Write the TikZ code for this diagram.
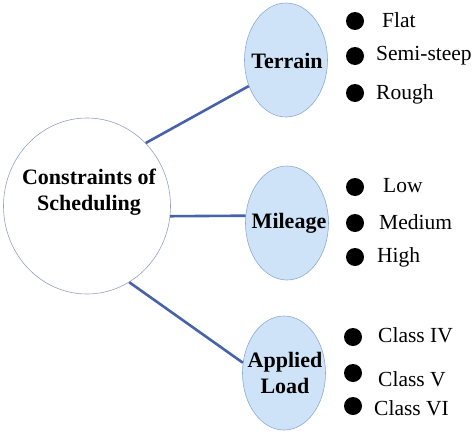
\documentclass[tikz,border=0pt]{standalone}
\usepackage{fontspec}
\setmainfont{Liberation Serif}
\usetikzlibrary{shapes.geometric}
\definecolor{linkblue}{RGB}{70,98,170}
\definecolor{ellfill}{RGB}{207,227,248}
\definecolor{elldraw}{RGB}{140,170,215}
\definecolor{circdraw}{RGB}{150,160,200}
\tikzset{
  x=1pt, y=-1pt,
  mainc/.style={ellipse, draw=circdraw, line width=0.6pt, fill=white, minimum width=167pt, minimum height=176pt, inner sep=0pt},
  catell/.style={ellipse, draw=elldraw, line width=0.6pt, fill=ellfill, minimum width=83pt, minimum height=114pt, inner sep=0pt},
  boldlbl/.style={font=\fontsize{22}{26.5}\selectfont\bfseries, align=center, inner sep=0pt},
  dotb/.style={circle, fill=black, minimum size=18pt, inner sep=0pt},
  itemtxt/.style={anchor=west, font=\fontsize{21.5}{25}\selectfont, inner sep=0pt},
  link/.style={draw=linkblue, line width=2.6pt}
}
\begin{document}
\begin{tikzpicture}
\useasboundingbox (0,0) rectangle (474,434);
% main circle
\node[mainc] (main) at (87,206) {};
\node[boldlbl] (mainlbl) at (89,192) {Constraints of\\Scheduling};
% categories
\node[catell] (terrain) at (286,60) {};
\node[boldlbl] (terrainlbl) at (287,61) {Terrain};
\node[catell] (mileage) at (287,223) {};
\node[boldlbl] (mileagelbl) at (289,223) {Mileage};
\node[catell] (load) at (284,373) {};
\node[boldlbl] (loadlbl) at (285,373) {Applied\\Load};
% connectors
\draw[link] (main.47) -- (terrain.215);
\draw[link] (main.-7) -- (mileage.170);
\draw[link] (main.-61) -- (load.166);
% terrain items
\node[dotb] (d1) at (355,21) {};
\node[itemtxt] (t1) at (382,20) {Flat};
\node[dotb] (d2) at (355,56) {};
\node[itemtxt] (t2) at (376,56) {Semi-steep};
\node[dotb] (d3) at (355,93) {};
\node[itemtxt] (t3) at (376,94) {Rough};
% mileage items
\node[dotb] (d4) at (355,187) {};
\node[itemtxt] (t4) at (383,186) {Low};
\node[dotb] (d5) at (355,223) {};
\node[itemtxt] (t5) at (379,222) {Medium};
\node[dotb] (d6) at (355,257) {};
\node[itemtxt] (t6) at (377,257) {High};
% load items
\node[dotb] (d7) at (353,337) {};
\node[itemtxt] (t7) at (378,335) {Class IV};
\node[dotb] (d8) at (353,373) {};
\node[itemtxt] (t8) at (378,379) {Class V};
\node[dotb] (d9) at (353,406) {};
\node[itemtxt] (t9) at (374,408) {Class VI};
\end{tikzpicture}
\end{document}
